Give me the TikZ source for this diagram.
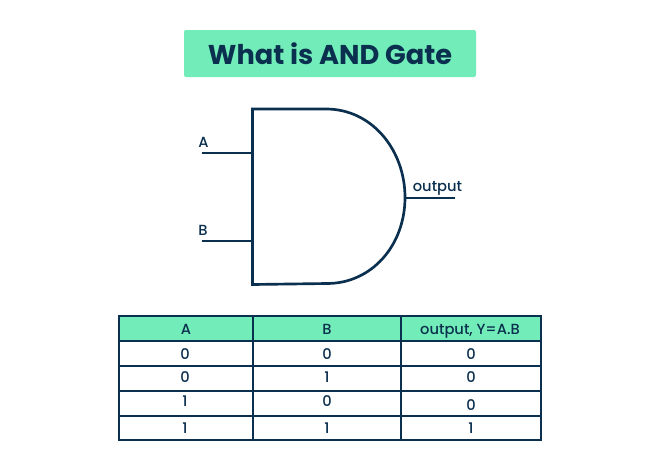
\documentclass[tikz,border=0pt]{standalone}
\usepackage{fontspec}
\setmainfont{Poppins}
\definecolor{navy}{HTML}{0B2F4E}
\definecolor{mint}{HTML}{72EDB9}
\tikzset{
  line/.style={draw=navy,line width=2pt},
  grid/.style={draw=navy,line width=2.2pt},
  lab/.style={text=navy,font=\fontsize{11}{13}\selectfont\fontspec{Poppins Medium},inner sep=0pt,anchor=center},
  cell/.style={text=navy,font=\fontsize{11}{13}\selectfont\fontspec{Poppins Medium},inner sep=0pt,anchor=center}
}
\begin{document}
\begin{tikzpicture}[x=0.75pt,y=-0.75pt]
\useasboundingbox (0,0) rectangle (660,472);
\fill[white] (0,0) rectangle (660,472);
% title
\node[fill=mint,rounded corners=1.5pt,minimum width=219pt,minimum height=35.25pt,inner sep=0pt,text=navy,font=\fontsize{20.4}{24}\selectfont\fontspec{Poppins Bold}] (title) at (330,53.5) {What is AND Gate};
% gate
\coordinate (gtl) at (252.5,109);
\coordinate (gbl) at (252.5,284.5);
\coordinate (gr) at (405,197.5);
\coordinate (ai) at (202,153);
\coordinate (ae) at (252.5,153);
\coordinate (bi) at (202,241);
\coordinate (be) at (252.5,241);
\coordinate (oe) at (455,198);
\coordinate (oi) at (405,198);
\draw[line,line join=miter] (gtl) -- (326,109) .. controls (372,109) and (405,150) .. (gr) .. controls (405,245) and (372,283.5) .. (327,283.5) -- (gbl) -- cycle;
\draw[line] (ai) -- (ae);
\draw[line] (bi) -- (be);
\draw[line] (oi) -- (oe);
\node[lab] (la) at (203.5,142.5) {A};
\node[lab] (lb) at (203,230) {B};
\node[lab] (lo) at (437.5,188.5) {output};
% table
\fill[mint] (119,316) rectangle (541,341);
\draw[grid] (119,316) rectangle (541,440);
\foreach \yy in {341,366,391,416} \draw[grid] (119,\yy) -- (541,\yy);
\foreach \xx in {253,401} \draw[grid] (\xx,316) -- (\xx,440);
\node[cell] (h1) at (186,329.5) {A};
\node[cell] (h2) at (327,329.5) {B};
\node[cell] (h3) at (470,331) {output, Y=A.B};
\node[cell] (a1) at (185,354) {0};
\node[cell] (b1) at (327,354) {0};
\node[cell] (c1) at (471,354) {0};
\node[cell] (a2) at (185,377.5) {0};
\node[cell] (b2) at (327,377.5) {1};
\node[cell] (c2) at (471,377.5) {0};
\node[cell] (a3) at (185,401) {1};
\node[cell] (b3) at (327,401) {0};
\node[cell] (c3) at (471,405) {0};
\node[cell] (a4) at (185,428) {1};
\node[cell] (b4) at (327,428) {1};
\node[cell] (c4) at (471,428) {1};
\end{tikzpicture}
\end{document}
